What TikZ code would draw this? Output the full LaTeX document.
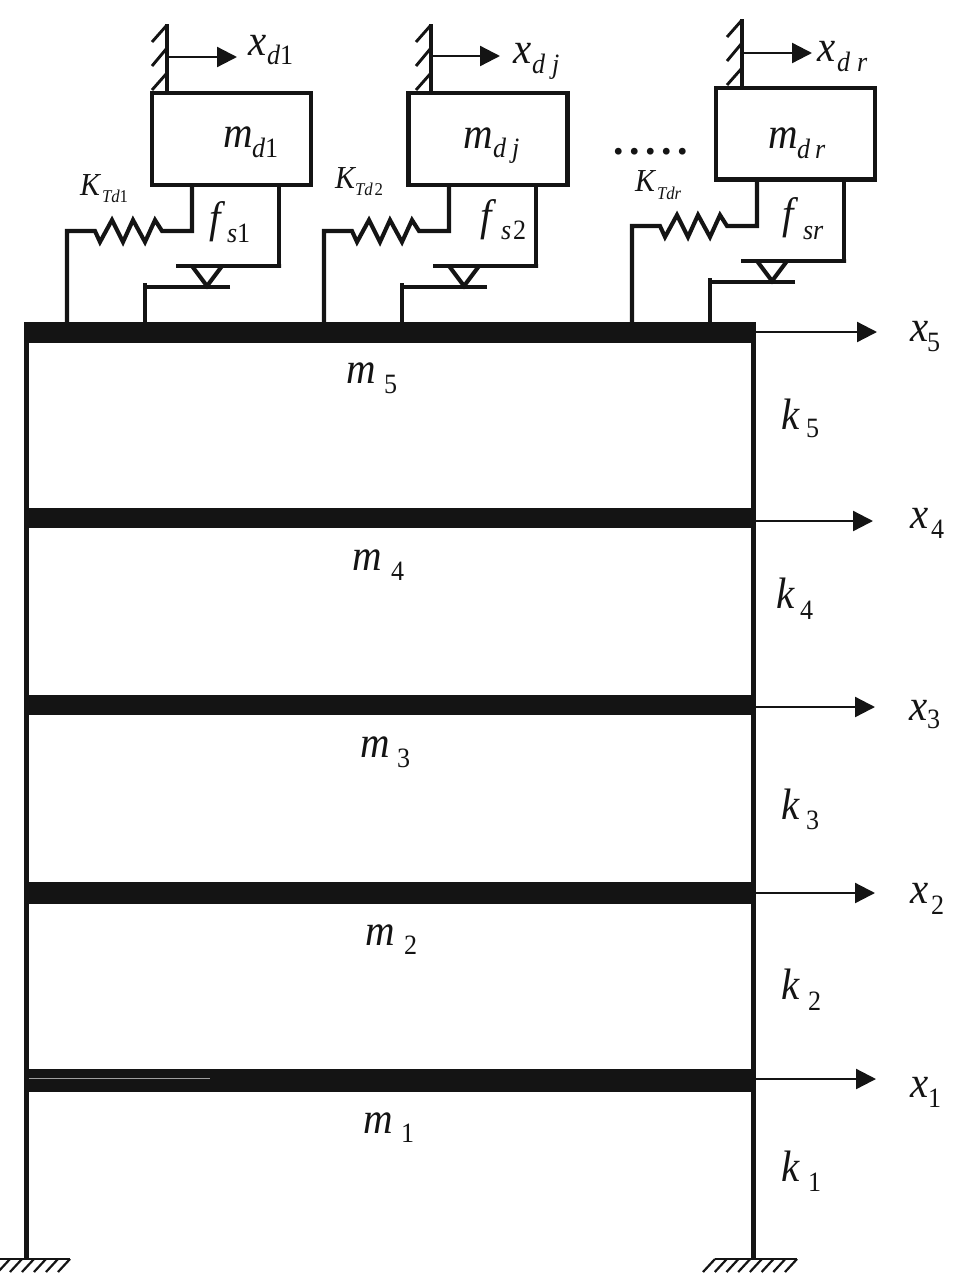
\documentclass[tikz,border=0pt]{standalone}
\usepackage{fontspec}
\setmainfont[FakeStretch=0.93]{Liberation Serif}
\newfontfamily\dotfont{Liberation Serif}
\usetikzlibrary{arrows.meta}
\definecolor{ink}{HTML}{141414}
\tikzset{
  thick line/.style={draw=ink,line width=4.1pt,line join=miter},
  hatch line/.style={draw=ink,line width=2.9pt},
  ground hatch/.style={draw=ink,line width=2.2pt},
  mass box/.style={draw=ink,line width=4.6pt,fill=white,anchor=north west,inner sep=0pt,outer sep=0pt},
  floor slab/.style={fill=ink,draw=none,anchor=north west,inner sep=0pt,outer sep=0pt,minimum width=729pt},
  disp arrow/.style={draw=ink,line width=2.3pt,-{Triangle[length=20pt,width=20pt,color=ink]},shorten >=0pt},
  lab/.style={anchor=base west,inner sep=0pt,outer sep=0pt,text=ink,font=\fontsize{44}{44}\selectfont\itshape},
  klab/.style={anchor=base west,inner sep=0pt,outer sep=0pt,text=ink,font=\fontsize{32}{32}\selectfont\itshape},
}
% name, x, y, main, sub dx, sub dy, subscript
\newcommand{\lbl}[7]{\node[lab] (#1) at (#2,#3) {\makebox[#5pt][l]{#4}\raisebox{-#6pt}{\fontsize{28}{28}\selectfont #7}};}
\newcommand{\klbl}[7]{\node[klab] (#1) at (#2,#3) {\makebox[#5pt][l]{#4}\raisebox{-#6pt}{\fontsize{18}{18}\selectfont #7}};}
\newcommand{\up}[1]{\textup{#1}}
% name, dx, dy, wall x, arrow y, arrow end x, box x, box width, box height
\newcommand{\damperunit}[9]{%
  \node[mass box,minimum width=#8pt,minimum height=#9pt] (box#1) at (#7,93+#3) {};
  \draw[thick line] (67+#2,322) -- (67+#2,231+#3) -- (95+#2,231+#3)
    -- (100+#2,242+#3) -- (112+#2,220+#3) -- (123+#2,242+#3) -- (133+#2,220+#3)
    -- (145+#2,242+#3) -- (155+#2,220+#3) -- (162+#2,231+#3) -- (192+#2,231+#3) -- (192+#2,184+#3);
  \draw[thick line] (176+#2,266+#3) -- (281+#2,266+#3) -- (279+#2,266+#3) -- (279+#2,184+#3);
  \draw[thick line] (192+#2,266+#3) -- (207+#2,286+#3) -- (222+#2,266+#3);
  \draw[thick line] (230+#2,287+#3) -- (145+#2,287+#3);
  \draw[thick line] (145+#2,283+#3) -- (145+#2,322);
  \draw[draw=ink,line width=3.2pt] (#4,24+#3) -- (#4,93+#3);
  \draw[hatch line] (#4-15,42+#3) -- (#4,25+#3);
  \draw[hatch line] (#4-15,66+#3) -- (#4,48+#3);
  \draw[hatch line] (#4-15,90+#3) -- (#4,73+#3);
  \draw[disp arrow] (#4,#5) -- (#6,#5);
}
\begin{document}
\begin{tikzpicture}[x=1pt,y=-1pt]
\useasboundingbox (0,0) rectangle (969,1285);
% columns
\draw[draw=ink,line width=5pt] (26.5,322) coordinate (cl) -- (26.5,1259) coordinate (gl);
\draw[draw=ink,line width=5pt] (753,322) coordinate (cr) -- (753,1259) coordinate (gr);
% slabs
\node[floor slab,minimum height=21pt] (f5) at (24,322) {};
\node[floor slab,minimum height=20pt] (f4) at (24,508) {};
\node[floor slab,minimum height=20pt] (f3) at (24,695) {};
\node[floor slab,minimum height=22pt] (f2) at (24,882) {};
\node[floor slab,minimum height=23pt] (f1) at (24,1069) {};
\draw[draw=gray!75,line width=.8pt] (29,1078) -- (210,1078);
% ground
\draw[draw=ink,line width=2.6pt] (0,1259) -- (70,1259);
\foreach \t in {70,58,46,34,22,10} \draw[ground hatch] (\t,1259) -- (\t-12,1272);
\draw[draw=ink,line width=2.6pt] (715,1259) -- (797,1259);
\foreach \t in {797,785.3,773.6,761.9,750.2,738.5,726.8,715} \draw[ground hatch] (\t,1259) -- (\t-12,1272);
% dampers
\damperunit{a}{0}{0}{167}{57}{237}{152}{159}{92}
\damperunit{b}{257}{0}{431}{56}{500}{408.7}{158.5}{92}
\damperunit{c}{565}{-5}{742}{53}{812}{716}{159}{91.7}
% floor displacement arrows
\draw[disp arrow] (f5.east |- 0,332) -- (877,332);
\draw[disp arrow] (f4.east |- 0,521) -- (873,521);
\draw[disp arrow] (f3.east |- 0,707) -- (875,707);
\draw[disp arrow] (f2.east |- 0,893) -- (875,893);
\draw[disp arrow] (f1.east |- 0,1079) -- (876,1079);
% dots
\node[anchor=base west,inner sep=0pt,text=ink,font=\fontsize{42}{42}\dotfont\bfseries] (dots) at (613,154)
  {.\kern5.6pt.\kern5.6pt.\kern5.6pt.\kern5.6pt.};
% damper labels
\lbl{xa}{248}{55}{x}{19}{9}{d\up{1}}
\lbl{ma}{223}{147}{m}{29}{10}{d\up{1}}
\klbl{ka}{80}{195}{K}{22}{7}{Td\up{1}}
\lbl{fa}{209}{232}{f}{18}{10}{s\up{1}}
\lbl{xb}{513}{63}{x}{19}{10}{d\kern7pt j}
\lbl{mb}{463}{148}{m}{30}{9}{d\kern6pt j}
\klbl{kb}{335}{188}{K}{20}{7}{Td\kern2pt\up{2}}
\lbl{fb}{480}{230}{f}{21}{9}{s\kern2pt\up{2}}
\lbl{xc}{817}{61}{x}{20}{10}{d\kern7pt r}
\lbl{mc}{768}{148}{m}{29}{10}{d\kern5pt r}
\klbl{kc}{635}{191}{K}{22}{8}{Tdr}
\lbl{fc}{782}{228}{f}{21}{11}{sr}
% floor labels
\lbl{m5}{346}{383}{m}{38}{10}{\up{5}}
\lbl{m4}{352}{570}{m}{39}{10}{\up{4}}
\lbl{m3}{360}{757}{m}{37}{10}{\up{3}}
\lbl{m2}{365}{945}{m}{39}{9}{\up{2}}
\lbl{m1}{363}{1133}{m}{38}{9}{\up{1}}
\lbl{k5}{781}{429}{k}{25}{8}{\up{5}}
\lbl{k4}{776}{608}{k}{24}{11}{\up{4}}
\lbl{k3}{781}{819}{k}{25}{10}{\up{3}}
\lbl{k2}{781}{999}{k}{27}{11}{\up{2}}
\lbl{k1}{781}{1181}{k}{27}{10}{\up{1}}
\lbl{x5}{910}{341}{x}{17}{10}{\up{5}}
\lbl{x4}{910}{528}{x}{21}{10}{\up{4}}
\lbl{x3}{909}{720}{x}{18}{8}{\up{3}}
\lbl{x2}{910}{903}{x}{21}{11}{\up{2}}
\lbl{x1}{910}{1097}{x}{18}{10}{\up{1}}
\end{tikzpicture}
\end{document}
